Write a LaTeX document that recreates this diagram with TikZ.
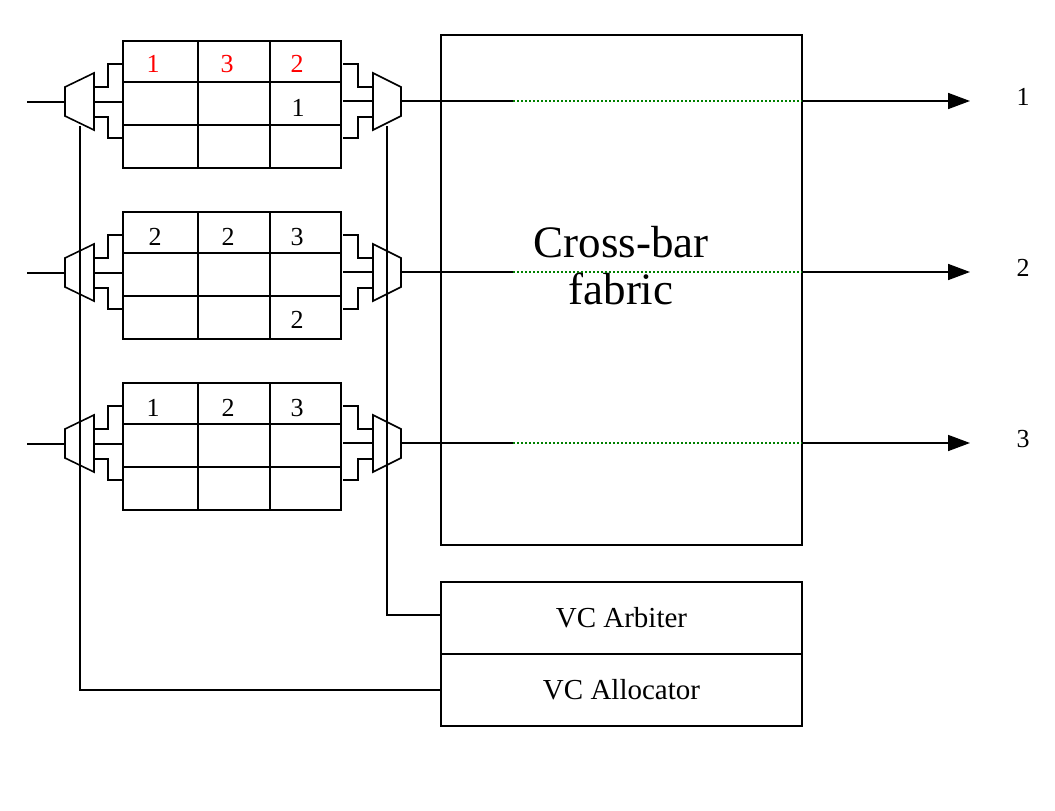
\documentclass[tikz,border=0pt]{standalone}
\usepackage{fontspec}
\setmainfont{Liberation Serif}
\usetikzlibrary{arrows.meta}
\begin{document}
\begin{tikzpicture}[x=1pt,y=-1pt,line width=1.6pt,
  num/.style={font=\fontsize{26}{26}\selectfont,anchor=center,inner sep=0pt},
  lbl/.style={font=\fontsize{29}{29}\selectfont},
  dotg/.style={draw=green!50!black,dotted,line width=2pt}]
\useasboundingbox (0,0) rectangle (1055,811);
\node[draw,minimum width=361pt,minimum height=510pt,inner sep=0pt] (xbar) at (621.5,290) {};
\node[font=\fontsize{45}{47}\selectfont,align=center] (xt) at (621,266) {Cross-bar\\fabric};
\node[draw,minimum width=361pt,minimum height=72pt,inner sep=0pt,lbl] (arb) at (621.5,618) {VC Arbiter};
\node[draw,minimum width=361pt,minimum height=72pt,inner sep=0pt,lbl] (alloc) at (621.5,690) {VC Allocator};
\foreach \o/\k in {0/1,171/2,342/3}{
\begin{scope}[yshift=-\o pt]
  \draw (123,41) rectangle (341,168);
  \draw (198,41)--(198,168) (270,41)--(270,168) (123,82)--(341,82) (123,125)--(341,125);
  \draw (65,87)--(94,73)--(94,130)--(65,116)--cycle;
  \draw (27,102)--(65,102);
  \draw (94,87)--(108,87)--(108,64)--(123,64);
  \draw (94,102)--(123,102);
  \draw (94,117)--(108,117)--(108,138)--(123,138);
  \draw (373,73)--(401,87)--(401,116)--(373,130)--cycle;
  \draw (343,64)--(358,64)--(358,87)--(373,87);
  \draw (343,101)--(373,101);
  \draw (343,138)--(358,138)--(358,117)--(373,117);
  \coordinate (s\k) at (513,101);
  \coordinate (e\k) at (802,101);
  \draw (401,101)--(s\k);
  \draw[dotg] (s\k)--(e\k);
  \draw[-{Triangle[length=22pt,width=16pt]}] (e\k)--(970,101);
  \node[num] (o\k) at (1023,97) {\k};
\end{scope}}
\draw (80,126)--(80,690)--(alloc.west);
\draw (387,126)--(387,615)--(441,615);
\node[num,text=red] at (153,64) {1};
\node[num,text=red] at (227,64) {3};
\node[num,text=red] at (297,64) {2};
\node[num] at (298,108) {1};
\node[num] at (155,237) {2};
\node[num] at (228,237) {2};
\node[num] at (297,237) {3};
\node[num] at (297,320) {2};
\node[num] at (153,408) {1};
\node[num] at (228,408) {2};
\node[num] at (297,408) {3};
\end{tikzpicture}
\end{document}
